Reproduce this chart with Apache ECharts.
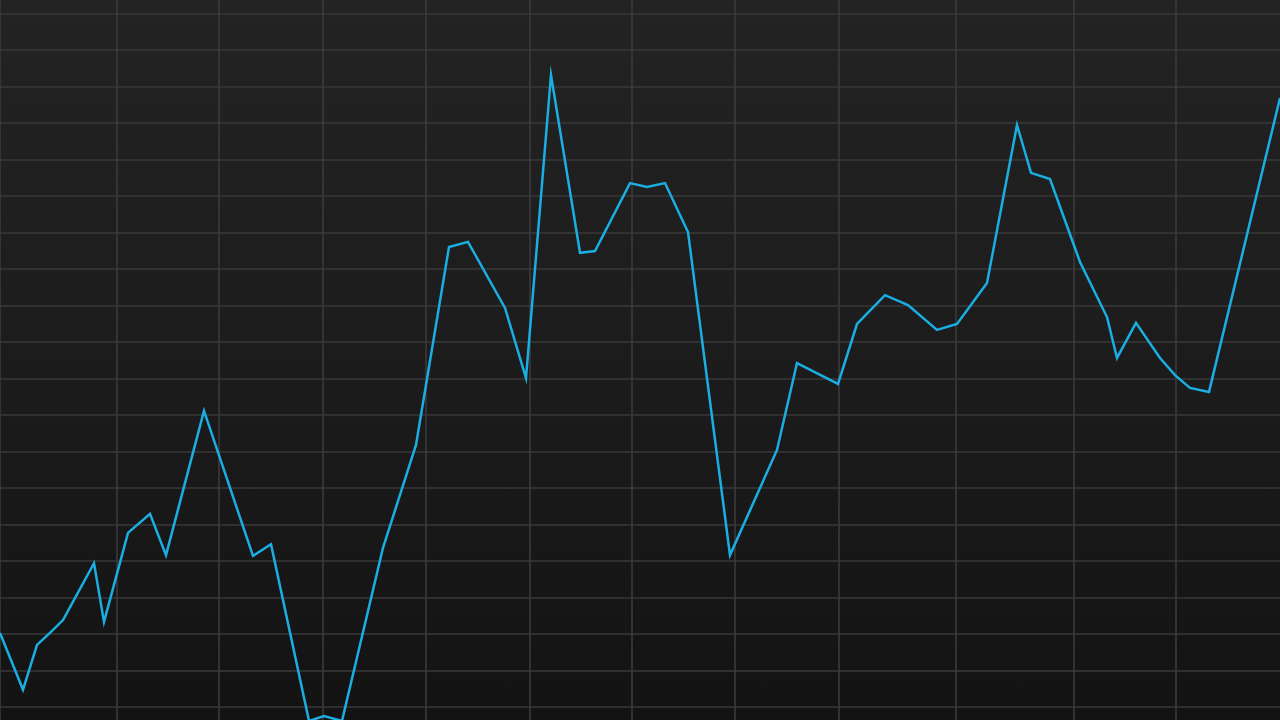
<!DOCTYPE html>
<html>
<head>
<meta charset="utf-8">
<script src="https://cdn.jsdelivr.net/npm/echarts@6/dist/echarts.min.js"></script>
<style>
  html, body { margin: 0; padding: 0; width: 1280px; height: 720px; overflow: hidden; }
  body { background: linear-gradient(to bottom, #232323 0%, #1c1c1c 50%, #131313 100%); }
  #chart { width: 1280px; height: 720px; }
</style>
</head>
<body>
<div id="chart"></div>
<script>
// x positions (time units) of each price point
const times = [0, 2.3, 3.7, 5.0, 6.3, 9.4, 10.4, 12.8, 15.0, 16.6, 20.4, 25.3, 27.1, 30.9, 32.4, 34.2,
  38.3, 41.6, 44.9, 46.8, 50.5, 52.6, 55.1, 58.0, 59.5, 63.0, 64.7, 66.5, 68.8, 73.0, 77.7, 79.7,
  83.8, 85.7, 88.5, 90.8, 93.7, 95.7, 98.7, 101.7, 103.1, 105.0, 108.0, 110.7, 111.7, 113.6, 116.0,
  117.5, 119.0, 120.9, 128.0];
// price values
const prices = [20.3, 4.7, 17.0, 20.3, 23.8, 39.4, 23.3, 47.7, 52.9, 41.6, 81.1, 41.4, 44.6, -3.8, -2.5, -3.8,
  43.6, 71.8, 126.0, 127.4, 109.3, 90.1, 173.1, 124.4, 124.9, 143.5, 142.4, 143.5, 130.1, 41.6, 70.4, 94.2,
  88.5, 104.9, 112.8, 110.1, 103.3, 104.9, 116.1, 159.4, 146.3, 144.6, 121.9, 106.8, 95.6, 105.2, 95.6,
  90.9, 87.4, 86.3, 166.8];
// vertical grid line positions
const verticalGrid = [0, 11.7, 21.9, 32.3, 42.6, 53.0, 63.2, 73.5, 83.9, 95.6, 107.4, 117.6];
// horizontal grid line values
const horizontalGrid = [0, 10, 20, 30, 40, 50, 60, 70, 80, 90, 100, 110, 120, 130, 140, 150, 160, 170, 180, 190];

const points = times.map((t, i) => [t, prices[i]]);

const chart = echarts.init(document.getElementById('chart'), null, { renderer: 'canvas' });
chart.setOption({
  backgroundColor: 'transparent',
  animation: false,
  grid: { left: 0, right: 0, top: 0, bottom: 0, containLabel: false },
  xAxis: {
    type: 'value', min: 0, max: 128,
    axisLine: { show: false },
    axisLabel: { show: false },
    axisTick: { show: false, customValues: verticalGrid },
    splitLine: { show: true, lineStyle: { color: '#3c3c3c', width: 1.5 } }
  },
  yAxis: {
    type: 'value', min: -3.56, max: 193.64,
    axisLine: { show: false },
    axisLabel: { show: false },
    axisTick: { show: false, customValues: horizontalGrid },
    splitLine: { show: true, lineStyle: { color: '#383838', width: 1.5 } }
  },
  series: [{
    type: 'line',
    data: points,
    showSymbol: false,
    clip: false,
    lineStyle: { color: '#1aaee2', width: 2.5, join: 'miter' },
    itemStyle: { color: '#1aaee2' }
  }]
});
</script>
</body>
</html>
